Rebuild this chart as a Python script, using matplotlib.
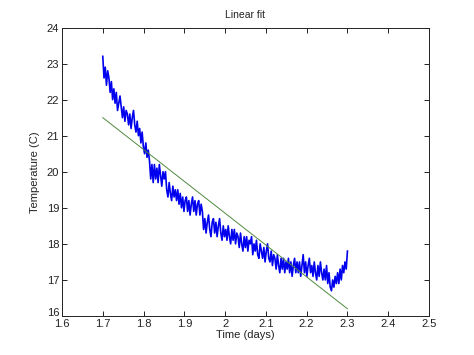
import numpy as np
import matplotlib
matplotlib.use("Agg")
import matplotlib.pyplot as plt
import matplotlib.transforms as mtransforms

plt.rcParams['font.family'] = ['Liberation Sans', 'DejaVu Sans']

# Measured temperature (C), sampled evenly from t=1.70 to t=2.30 days
temps = [
    23.2, 22.6, 22.9, 22.4, 22.8, 22.6, 22.2, 22.5, 22.0, 22.3,
    21.9, 22.2, 21.7, 21.9, 22.1, 21.8, 21.5, 21.8, 21.4, 21.7,
    21.6, 21.3, 21.6, 21.2, 21.5, 21.7, 21.3, 21.1, 21.4, 21.0,
    21.2, 20.8, 21.1, 20.7, 20.5, 20.8, 20.4, 20.6, 20.3, 19.8,
    20.2, 19.7, 20.2, 19.8, 20.1, 19.7, 20.2, 19.9, 19.6, 20.0,
    19.8, 20.0, 19.5, 19.3, 19.7, 19.4, 19.2, 19.6, 19.3, 19.5,
    19.2, 19.5, 19.1, 19.4, 19.0, 19.3, 18.9, 19.2, 19.3, 18.9,
    19.2, 18.8, 19.1, 19.3, 18.9, 19.2, 18.8, 19.1, 19.2, 18.8,
    19.1, 18.9, 18.4, 18.7, 18.3, 18.6, 18.8, 18.4, 18.2, 18.6,
    18.7, 18.3, 18.6, 18.2, 18.5, 18.7, 18.3, 18.1, 18.5, 18.2,
    18.4, 18.1, 18.5, 18.2, 18.0, 18.4, 18.1, 18.4, 18.0, 18.3,
    18.2, 17.9, 18.3, 18.0, 17.8, 18.2, 17.9, 18.2, 17.8, 18.1,
    18.0, 18.2, 17.7, 18.0, 17.8, 18.1, 17.7, 17.6, 18.0, 17.8,
    17.6, 17.9, 17.5, 17.8, 18.0, 17.6, 17.5, 17.8, 17.4, 17.7,
    17.6, 17.3, 17.7, 17.4, 17.2, 17.6, 17.3, 17.6, 17.2, 17.5,
    17.3, 17.6, 17.2, 17.5, 17.1, 17.4, 17.6, 17.2, 17.5, 17.2,
    17.5, 17.1, 17.4, 17.7, 17.2, 17.5, 17.1, 17.4, 17.6, 17.2,
    17.4, 17.1, 17.5, 17.2, 17.0, 17.4, 17.1, 17.5, 17.2, 17.0,
    17.3, 17.0, 17.4, 16.9, 17.2, 16.8, 16.7, 17.0, 16.8, 17.1,
    16.9, 17.2, 16.9, 17.3, 17.0, 17.4, 17.2, 17.5, 17.3, 17.8,
]
t_start, t_end = 1.70, 2.30
fit_x = [1.70, 2.30]
fit_y = [21.5, 16.2]

xticks = [1.6, 1.7, 1.8, 1.9, 2.0, 2.1, 2.2, 2.3, 2.4, 2.5]
xticklabels = ['1.6', '1.7', '1.8', '1.9', '2', '2.1', '2.2', '2.3', '2.4', '2.5']
yticks = [16, 17, 18, 19, 20, 21, 22, 23, 24]

times = np.linspace(t_start, t_end, len(temps))

fig = plt.figure(figsize=(4.74, 3.55), dpi=100)
ax = fig.add_axes([62/474, 1-316/355, (429-62)/474, (316-27.5)/355])
ax.plot(times, temps, color='#0000ee', lw=1.2)
ax.plot(fit_x, fit_y, color='#4f8a3f', lw=0.7)

ax.set_xlim(1.6, 2.5)
ax.set_ylim(16, 24)
ax.set_xticks(xticks)
ax.set_xticklabels(xticklabels)
ax.set_yticks(yticks)
ax.tick_params(direction='in', top=True, right=True, length=3.5, width=0.7,
               labelsize=8, pad=2, colors='#222222')
for s in ax.spines.values():
    s.set_linewidth(0.7)
    s.set_color('#222222')

# lift the lowest y tick label slightly so it does not touch "1.6"
lbl = ax.get_yticklabels()[0]
lbl.set_transform(lbl.get_transform() +
                  mtransforms.ScaledTranslation(0, 3/72, fig.dpi_scale_trans))

ax.set_title('Linear fit', fontsize=7.5, pad=7, color='#222222')
ax.set_xlabel('Time (days)', fontsize=8, labelpad=1, color='#222222')
ax.set_ylabel('Temperature (C)', fontsize=8, labelpad=5, color='#222222')

fig.savefig('out.png', dpi=100)
